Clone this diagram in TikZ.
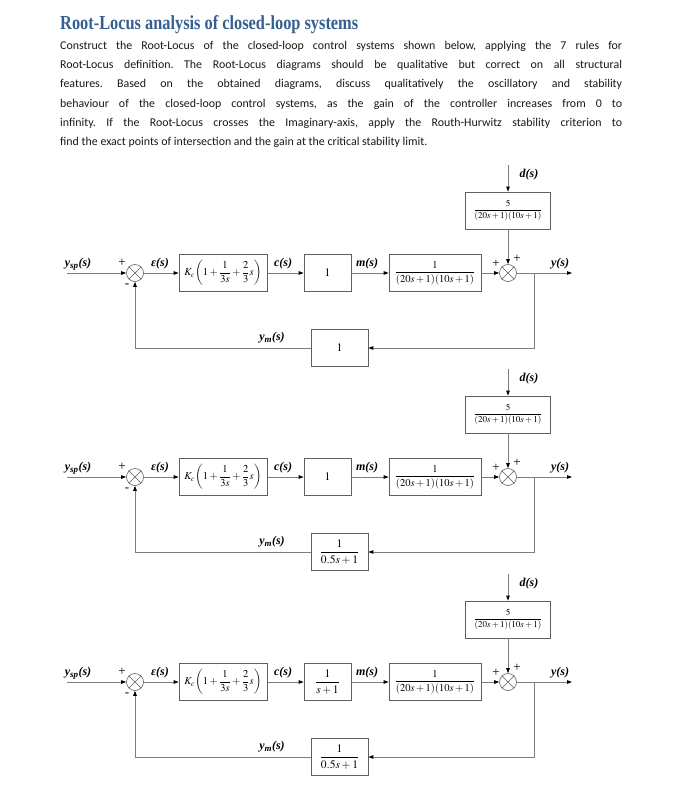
\documentclass[tikz,border=0pt]{standalone}
\usepackage{amsmath}
\usepackage{mathptmx}
\usepackage[no-math]{fontspec}
\setmainfont{Liberation Serif}
\newfontfamily\bodyfont{Carlito}
\usetikzlibrary{arrows.meta}
\definecolor{titleblue}{RGB}{54,95,145}
\definecolor{lncol}{RGB}{125,125,125}
\definecolor{bxcol}{RGB}{95,95,95}
\definecolor{txtcol}{RGB}{25,25,25}
\frenchspacing
\tikzset{
  blk/.style={draw=bxcol, line width=0.7pt, minimum height=37pt, inner sep=0pt, align=center, font=\fontsize{11.5}{13}\selectfont},
  sumc/.style={circle, draw=bxcol, line width=0.6pt, minimum size=17pt, inner sep=0pt},
  conn/.style={draw=lncol, line width=0.8pt, -{Triangle[length=5pt,width=3.5pt,black]}},
  wire/.style={draw=lncol, line width=0.8pt},
  sig/.style={font=\fontsize{12}{14}\selectfont\bfseries\itshape, inner sep=0pt},
  sgn/.style={font=\fontsize{13}{14}\selectfont, inner sep=0pt},
  para/.style={anchor=base west, inner sep=0pt, text=txtcol, font=\bodyfont\fontsize{11.9}{14}\selectfont}
}
\newcommand{\rldiag}[4]{%
\begin{scope}[yshift=-#2pt]
  \coordinate (#1in) at (67,273);
  \node[sumc] (#1s1) at (135,273) {};
  \draw[bxcol, line width=0.6pt] (#1s1.north west) -- (#1s1.south east) (#1s1.north east) -- (#1s1.south west);
  \node[blk, minimum width=88pt] (#1pid) at (223,273) {\fontsize{10.5}{12}\selectfont$K_c\biggl(1+\dfrac{1}{3s}+\dfrac{2}{3}s\biggr)$};
  \node[blk, minimum width=47pt] (#1ba) at (327.5,273) {#3};
  \node[blk, minimum width=92pt] (#1pl) at (435,273) {\fontsize{10.5}{12}\selectfont$\dfrac{1}{(20s+1)(10s+1)}$};
  \node[sumc] (#1s2) at (508,273) {};
  \draw[bxcol, line width=0.6pt] (#1s2.north west) -- (#1s2.south east) (#1s2.north east) -- (#1s2.south west);
  \coordinate (#1br) at (534,273);
  \coordinate (#1out) at (572,273);
  \coordinate (#1dtop) at (508,165);
  \node[blk, minimum width=85pt] (#1db) at (508,210.5) {\fontsize{9}{10}\selectfont$\dfrac{5}{(20s+1)(10s+1)}$};
  \node[blk, minimum width=57pt] (#1fb) at (339.5,348) {#4};
  % connectors
  \draw[conn] (#1in) -- (#1s1);
  \draw[conn] (#1s1) -- (#1pid);
  \draw[conn] (#1pid) -- (#1ba);
  \draw[conn] (#1ba) -- (#1pl);
  \draw[conn] (#1pl) -- (#1s2);
  \draw[wire] (#1s2) -- (#1br);
  \draw[conn] (#1br) -- (#1out);
  \draw[conn] (#1dtop) -- (#1db);
  \draw[conn] (#1db) -- (#1s2);
  \draw[conn] (#1br) |- (#1fb);
  \draw[conn] (#1fb) -| (#1s1);
  % labels
  \node[sig] (#1Lsp) at (78,264) {y\textsubscript{sp}(s)};
  \node[sig] (#1Le) at (160,264) {ε(s)};
  \node[sig] (#1Lc) at (283,264) {c(s)};
  \node[sig] (#1Lm) at (367,264) {m(s)};
  \node[sig] (#1Ly) at (560,264) {y(s)};
  \node[sig] (#1Ld) at (529,175) {d(s)};
  \node[sig] (#1Lym) at (272,338) {y\textsubscript{m}(s)};
  \node[sgn] (#1p1) at (122,263) {+};
  \node[sgn] (#1m1) at (127,286) {-};
  \node[sgn] (#1p2) at (496,264) {+};
  \node[sgn] (#1p3) at (517,259) {+};
\end{scope}}
\begin{document}
\begin{tikzpicture}[x=1pt, y=-1pt]
\useasboundingbox[fill=white] (0,0) rectangle (682,806);
\node[anchor=base west, inner sep=0pt, text=titleblue] (title) at (60,29)
  {\resizebox{298pt}{14pt}{\bfseries Root-Locus analysis of closed-loop systems}};
\node[para] (t1) at (60,49.0) {\makebox[562pt][s]{Construct the Root-Locus of the closed-loop control systems shown below, applying the 7 rules for}};
\node[para] (t2) at (60,68.3) {\makebox[562pt][s]{Root-Locus definition. The Root-Locus diagrams should be qualitative but correct on all structural}};
\node[para] (t3) at (60,87.6) {\makebox[562pt][s]{features. Based on the obtained diagrams, discuss qualitatively the oscillatory and stability}};
\node[para] (t4) at (60,107.0) {\makebox[562pt][s]{behaviour of the closed-loop control systems, as the gain of the controller increases from 0 to}};
\node[para] (t5) at (60,126.3) {\makebox[562pt][s]{infinity. If the Root-Locus crosses the Imaginary-axis, apply the Routh-Hurwitz stability criterion to}};
\node[para] (t6) at (60,145.7) {find the exact points of intersection and the gain at the critical stability limit.};
\rldiag{a}{0}{$1$}{$1$}
\rldiag{b}{204}{$1$}{$\dfrac{1}{0.5s+1}$}
\rldiag{c}{409}{$\dfrac{1}{s+1}$}{$\dfrac{1}{0.5s+1}$}
\end{tikzpicture}
\end{document}
